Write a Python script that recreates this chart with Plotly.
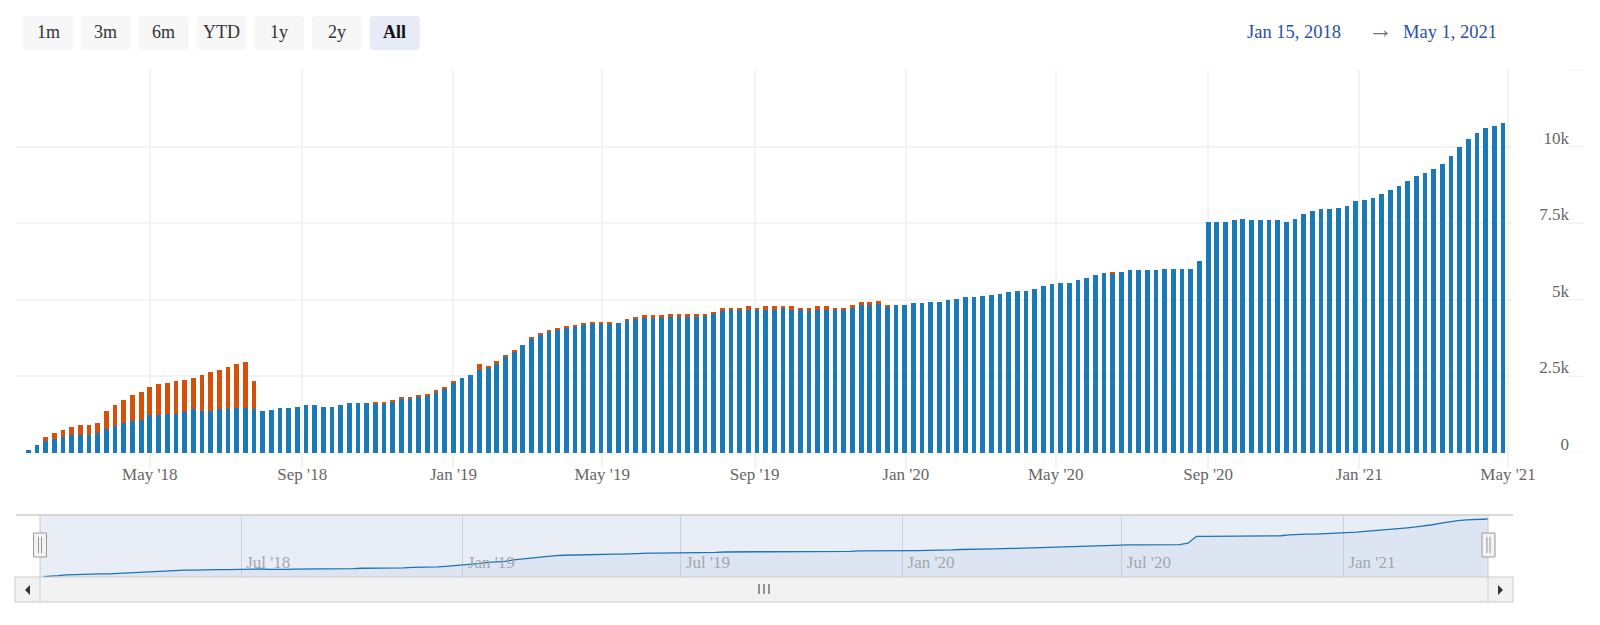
import pandas as pd
import plotly.graph_objects as go

# weekly values
first_week = "2018-01-23"
covered = [110,250,400,470,510,580,580,580,665,775,
           870,970,1035,1080,1230,1230,1285,1285,1340,1425,
           1370,1370,1425,1425,1480,1480,1425,1370,1415,1470,
           1470,1514,1570,1570,1510,1510,1570,1620,1620,1620,
           1620,1620,1680,1780,1780,1830,1870,1980,2090,2290,
           2440,2540,2700,2800,2910,3160,3310,3520,3730,3870,
           3980,4030,4080,4130,4180,4240,4240,4240,4230,4320,
           4380,4430,4430,4430,4430,4430,4430,4430,4490,4550,
           4640,4680,4680,4680,4680,4680,4680,4740,4680,4680,
           4640,4680,4680,4680,4680,4740,4840,4840,4890,4790,
           4840,4840,4890,4890,4930,4930,5000,5030,5100,5100,
           5140,5150,5200,5250,5300,5300,5360,5460,5500,5560,
           5560,5650,5710,5810,5860,5860,5920,5960,5960,5960,
           5960,6010,6010,6010,6010,6270,7550,7550,7550,7600,
           7650,7600,7600,7600,7600,7550,7650,7800,7910,7960,
           7960,8010,8050,8210,8260,8310,8460,8570,8730,8880,
           9030,9130,9280,9430,9690,10000,10250,10460,10610,10660,10760]
extra = [0,0,110,195,250,280,345,345,305,610,
         710,775,850,925,915,1015,1015,1065,1055,1025,
         1190,1280,1285,1385,1440,1480,925,0,0,0,
         0,0,0,0,0,0,0,0,0,0,
         60,60,50,50,50,50,60,60,60,50,
         0,0,210,50,100,50,60,0,50,50,
         50,50,60,50,60,40,40,40,0,60,
         50,60,60,60,110,110,110,110,50,40,
         100,60,60,110,60,110,110,50,110,60,
         100,110,110,60,60,100,90,90,60,50,
         0,0,0,0,0,0,0,0,0,0,
         0,0,0,0,0,0,0,0,0,0,
         0,0,0,0,0,60,0,0,0,0,
         0,0,0,0,0,0,0,0,0,0,
         0,0,0,0,0,0,0,0,0,0,
         0,0,0,0,0,0,0,0,0,0,
         0,0,0,0,0,0,0,0,0,0,0]
assert len(covered) == len(extra) == 171

range_buttons = ["1m", "3m", "6m", "YTD", "1y", "2y", "All"]
y_ticks = [0, 2500, 5000, 7500, 10000, 12500]
y_labels = ["0", "2.5k", "5k", "7.5k", "10k", ""]

weeks = pd.date_range(first_week, periods=len(covered), freq="7D")

W, H = 1600, 625
SERIF = "Liberation Serif"
BLUE = "#1a7ab8"
ORANGE = "#d5500a"
GRID = "#f3f3f3"
EDGE = "#cccccc"


# pixel position in the picture -> paper fraction
def px(x):
    return x / W

def py(y):
    return 1 - y / H

def rect(x0, y0, x1, y1, fill=None, line=None, width=1, layer="above"):
    return dict(type="rect", xref="paper", yref="paper", layer=layer,
                x0=px(x0), x1=px(x1), y0=py(y0), y1=py(y1),
                fillcolor=fill or "rgba(0,0,0,0)",
                line=dict(color=line or "rgba(0,0,0,0)", width=width if line else 0))

def seg(x0, y0, x1, y1, color=EDGE, width=1):
    return dict(type="line", xref="paper", yref="paper", layer="above",
                x0=px(x0), x1=px(x1), y0=py(y0), y1=py(y1),
                line=dict(color=color, width=width))

def round_box(x0, y0, x1, y1, fill, r=4):
    a, b, c, d = px(x0), px(x1), py(y0), py(y1)
    rx, ry = r / W, r / H
    path = (f"M {a+rx} {c} L {b-rx} {c} Q {b} {c} {b} {c-ry} L {b} {d+ry} Q {b} {d} {b-rx} {d} "
            f"L {a+rx} {d} Q {a} {d} {a} {d+ry} L {a} {c-ry} Q {a} {c} {a+rx} {c} Z")
    return dict(type="path", xref="paper", yref="paper", path=path, fillcolor=fill, line=dict(width=0))

def triangle(points, color="#333333"):
    path = "M " + " L ".join(f"{px(x)} {py(y)}" for x, y in points) + " Z"
    return dict(type="path", xref="paper", yref="paper", path=path, fillcolor=color, line=dict(width=0))

def text(x, y, label, size, color, bold=False):
    return dict(xref="paper", yref="paper", x=px(x), y=py(y), text=f"<b>{label}</b>" if bold else label,
                showarrow=False, xanchor="center", yanchor="middle",
                font=dict(family=SERIF, size=size, color=color))


fig = go.Figure()

fig.add_trace(go.Bar(x=weeks, y=covered, marker=dict(color=BLUE, line=dict(width=0)),
                     width=3.8 * 86400000, name="Covered"))
fig.add_trace(go.Bar(x=weeks, y=extra, marker=dict(color=ORANGE, line=dict(width=0)),
                     width=3.8 * 86400000, name="Extra"))

# navigator line, the ends reach a little further than the bars
nav_x = [pd.Timestamp("2018-01-18")] + list(weeks) + [pd.Timestamp("2021-05-01")]
nav_y = [covered[0] / 2] + covered + [covered[-1]]
fig.add_trace(go.Scatter(x=nav_x, y=nav_y, mode="lines", xaxis="x2", yaxis="y2",
                         line=dict(color="#1a75b3", width=1.3),
                         fill="tozeroy", fillcolor="rgba(30,100,170,0.05)"))

shapes = []
annotations = []

# range buttons
for i, label in enumerate(range_buttons):
    x0 = 23 + i * 57.8
    selected = label == "All"
    shapes.append(round_box(x0, 16, x0 + 50, 50, "#e6ebf5" if selected else "#f7f7f7"))
    annotations.append(text(x0 + 25, 32, label, 18, "#111111" if selected else "#333333", bold=selected))

# date range readout
annotations.append(text(1294, 31.5, "Jan 15, 2018", 18.5, "#2a50a8"))
annotations.append(text(1380, 29.5, "→", 25, "#777777"))
annotations.append(text(1450, 31.5, "May 1, 2021", 18.5, "#2a50a8"))

# gridlines carry on a bit past the axis labels
for tick in y_ticks:
    shapes.append(dict(type="line", xref="paper", yref="y", x0=px(1568), x1=px(1584), y0=tick, y1=tick,
                       line=dict(color=GRID, width=1.5)))

# navigator frame and handles
shapes.append(rect(40, 515, 1488, 577, fill="#e8edf6", layer="below"))
shapes.append(seg(16, 515, 1513, 515, width=1.5))
shapes.append(seg(40, 515, 40, 577))
shapes.append(seg(1488, 515, 1488, 577))

# scrollbar
shapes.append(rect(15, 577, 1513, 602, fill="#f2f2f2", line=EDGE))
shapes.append(seg(40, 577, 40, 602))
shapes.append(seg(1488, 577, 1488, 602))
shapes.append(triangle([(30, 585), (30, 595), (25, 590)]))
shapes.append(triangle([(1498, 585), (1498, 595), (1503, 590)]))
for x in (759, 764, 769):
    shapes.append(seg(x, 584, x, 594, color="#333333"))

for x0 in (33.5, 1482):
    shapes.append(rect(x0, 533, x0 + 13, 557, fill="#f2f2f2", line="#999999", width=1))
    shapes.append(seg(x0 + 5, 537, x0 + 5, 553, color="#999999"))
    shapes.append(seg(x0 + 8, 537, x0 + 8, 553, color="#999999"))

fig.update_layout(
    width=W, height=H,
    margin=dict(l=0, r=0, t=0, b=0, autoexpand=False),
    barmode="stack",
    bargap=0,
    showlegend=False,
    paper_bgcolor="white",
    plot_bgcolor="white",
    shapes=shapes,
    annotations=annotations,
    xaxis=dict(domain=[px(16), px(1513)], range=["2018-01-13", "2021-05-05"], type="date",
               tick0="2018-01-01", dtick="M4", tickformat="%b '%y", automargin=False,
               showgrid=True, gridcolor=GRID, gridwidth=1.5, zeroline=False, showline=False,
               ticks="outside", ticklen=15, tickcolor=GRID, tickwidth=1.5, ticklabelstandoff=-9,
               tickfont=dict(family=SERIF, size=17, color="#666666")),
    yaxis=dict(domain=[py(453), py(70)], range=[0, 12500], anchor="free", position=px(1569), side="left",
               tickvals=y_ticks, ticktext=y_labels, ticklabelshift=-9, ticks="", automargin=False,
               showgrid=True, gridcolor=GRID, gridwidth=1.5, zeroline=False, showline=False,
               tickfont=dict(family=SERIF, size=17, color="#666666")),
    xaxis2=dict(domain=[px(40), px(1488)], range=["2018-01-15", "2021-05-01"], type="date", anchor="y2",
                tick0="2018-01-01", dtick="M6", tickformat="%b '%y", ticklabelposition="inside right",
                ticklabelshift=5, automargin=False,
                showgrid=True, gridcolor="#cdd3dc", gridwidth=1, zeroline=False, showline=False,
                tickfont=dict(family=SERIF, size=17, color="#a3a7b0")),
    yaxis2=dict(domain=[py(577), py(515)], range=[0, 11500], anchor="x2", automargin=False,
                showgrid=False, zeroline=False, showline=False, showticklabels=False),
)

fig.write_html("out.html", config={"displayModeBar": False},
               post_script="document.body.style.margin='0';")
